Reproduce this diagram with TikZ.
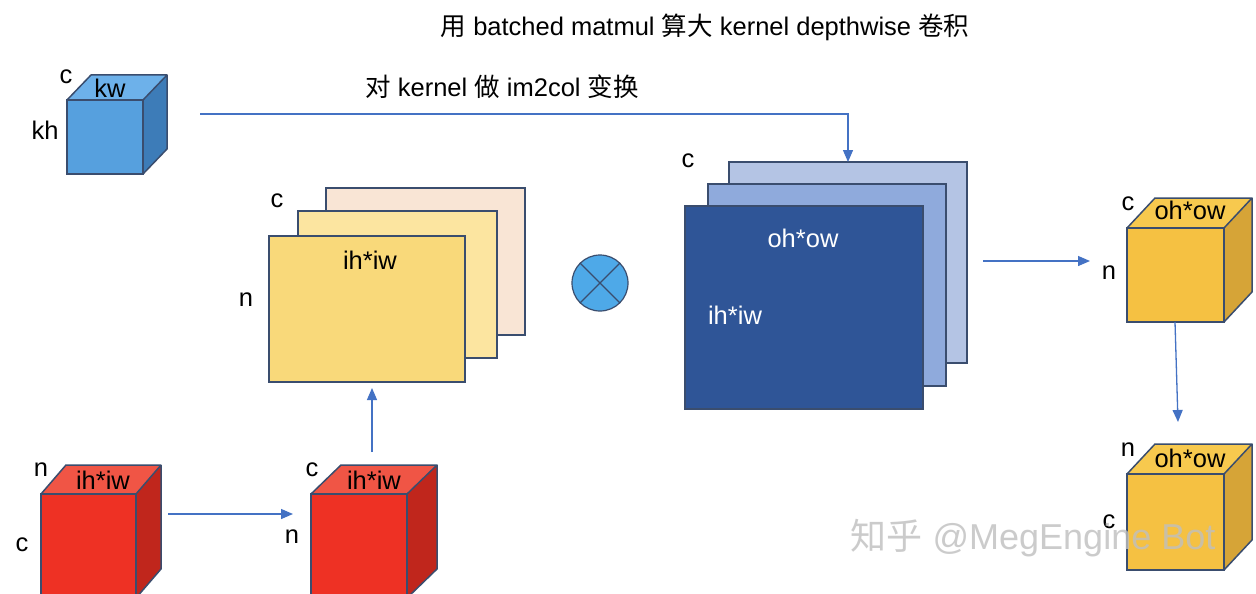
\documentclass[tikz,border=0pt]{standalone}
\usepackage{fontspec}
\setmainfont{Liberation Sans}
\newfontfamily\cjk{Noto Sans CJK SC}
\usetikzlibrary{arrows.meta}
\definecolor{edge}{HTML}{3A4D6E}
\definecolor{arr}{HTML}{4472C4}
\definecolor{bF}{HTML}{56A0DE}\definecolor{bT}{HTML}{6DB1EA}\definecolor{bS}{HTML}{3D7CB8}
\definecolor{rF}{HTML}{EE3124}\definecolor{rT}{HTML}{F05545}\definecolor{rS}{HTML}{C0261C}
\definecolor{oF}{HTML}{F5C142}\definecolor{oT}{HTML}{F7C94E}\definecolor{oS}{HTML}{D6A437}
\newcommand\mycube[9]{% x1 y1 x2 y2 dx dy front top side
 \fill[#9] (#3,-#2)--(#3+#5,-#2+#6)--(#3+#5,-#4+#6)--(#3,-#4)--cycle;
 \fill[#8] (#1,-#2)--(#1+#5,-#2+#6)--(#3+#5,-#2+#6)--(#3,-#2)--cycle;
 \draw[edge,line width=1.5pt,fill=#7] (#1,-#2) rectangle (#3,-#4);
 \draw[edge,line width=1.5pt,line join=round] (#1,-#2)--(#1+#5,-#2+#6)--(#3+#5,-#2+#6)--(#3+#5,-#4+#6)--(#3,-#4) (#3+#5,-#2+#6)--(#3,-#2);}
\begin{document}
\begin{tikzpicture}[x=1pt,y=1pt,
 lab/.style={font=\fontsize{25.5}{28}\selectfont,inner sep=0pt},
 con/.style={arr,line width=1.3pt,-{Triangle[length=12pt,width=10pt]}},
 sheet/.style={draw=edge,line width=1.2pt}]
\useasboundingbox (0,0) rectangle (1256,-594);
\fill[white] (0,0) rectangle (1256,-594);
% title
\node[lab] (title) at (705,-27) {{\cjk 用} batched matmul {\cjk 算大} kernel depthwise {\cjk 卷积}};
\node[lab] (t2) at (502,-87) {{\cjk 对} kernel {\cjk 做} im2col {\cjk 变换}};
% blue cube
\mycube{67}{100}{143}{174}{24}{25}{bF}{bT}{bS}
\node[lab] (kw) at (110,-88) {kw};
\node[lab] (bc) at (66,-77) {c};
\node[lab] (kh) at (45,-130) {kh};
% red cubes
\mycube{41}{494}{136}{598}{25}{29}{rF}{rT}{rS}
\node[lab] (r1n) at (41,-470) {n};
\node[lab] (r1a) at (103,-480) {ih*iw};
\node[lab] (r1c) at (22,-545) {c};
\mycube{311}{494}{407}{598}{30}{29}{rF}{rT}{rS}
\node[lab] (r2c) at (312,-470) {c};
\node[lab] (r2a) at (374,-480) {ih*iw};
\node[lab] (r2n) at (292,-537) {n};
% orange cubes
\mycube{1127}{228}{1224}{322}{28}{30}{oF}{oT}{oS}
\node[lab] (o1c) at (1128,-204) {c};
\node[lab] (o1a) at (1190,-210) {oh*ow};
\node[lab] (o1n) at (1109,-273) {n};
\mycube{1127}{474}{1224}{570}{28}{30}{oF}{oT}{oS}
\node[lab] (o2n) at (1128,-450) {n};
\node[lab] (o2a) at (1190,-458) {oh*ow};
\node[lab] (o2c) at (1109,-522) {c};
% yellow sheets
\draw[sheet,fill={rgb,255:red,249;green,229;blue,213}] (326,-188) rectangle (525,-335);
\draw[sheet,fill={rgb,255:red,252;green,229;blue,160}] (298,-211) rectangle (497,-358);
\draw[sheet,fill={rgb,255:red,249;green,217;blue,122}] (269,-236) rectangle (465,-382);
\node[lab] (ya) at (370,-260) {ih*iw};
\node[lab] (yc) at (277,-201) {c};
\node[lab] (yn) at (246,-300) {n};
% circle
\node[circle,draw=edge,line width=1.2pt,fill={rgb,255:red,78;green,169;blue,232},minimum size=56pt,inner sep=0pt] (ot) at (600,-283) {};
\draw[edge,line width=1.2pt] (ot.north west)--(ot.south east) (ot.north east)--(ot.south west);
% blue sheets
\draw[sheet,fill={rgb,255:red,180;green,196;blue,228}] (729,-162) rectangle (967,-363);
\draw[sheet,fill={rgb,255:red,143;green,170;blue,220}] (708,-184) rectangle (946,-386);
\draw[sheet,fill={rgb,255:red,47;green,85;blue,151}] (685,-206) rectangle (923,-409);
\node[lab,white] (ba) at (803,-238) {oh*ow};
\node[lab,white] (bb) at (735,-315) {ih*iw};
\node[lab] (bsc) at (688,-161) {c};
% connectors
\coordinate (a1) at (200,-114); \coordinate (a2) at (848,-162);
\draw[con] (a1) -| (a2);
\coordinate (b1) at (983,-261); \coordinate (b2) at (1090,-261);
\draw[con] (b1)--(b2);
\coordinate (c1) at (1175,-322); \coordinate (c2) at (1178,-422);
\draw[con] (c1)--(c2);
\coordinate (d1) at (168,-514); \coordinate (d2) at (293,-514);
\draw[con] (d1)--(d2);
\coordinate (e1) at (372,-452); \coordinate (e2) at (372,-388);
\draw[con] (e1)--(e2);
% watermark
\node[lab,font=\fontsize{36}{40}\selectfont,white!75!black,opacity=0.8] (wm) at (1033,-538) {{\cjk 知乎} @MegEngine Bot};
\end{tikzpicture}
\end{document}
